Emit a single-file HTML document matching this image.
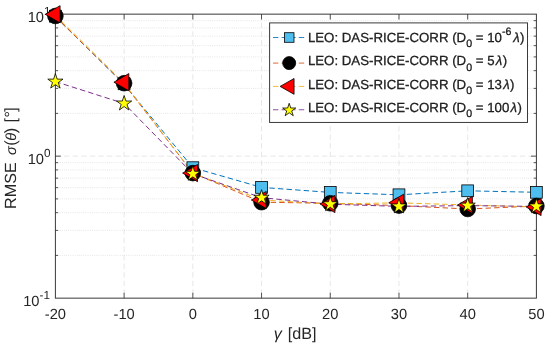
<!DOCTYPE html><html><head><meta charset="utf-8"><title>RMSE plot</title>
<style>html,body{margin:0;padding:0;background:#fff;overflow:hidden}svg{display:block}text{font-family:"Liberation Sans",Arial,sans-serif;fill:#262626}</style></head><body>
<svg width="550" height="347" viewBox="0 0 550 347" text-rendering="geometricPrecision">
<rect width="550" height="347" fill="#fff"/>
<g stroke="#e7e7e7" stroke-width="1" fill="none">
<line x1="124.11" y1="14.15" x2="124.11" y2="298.15" stroke-dasharray="5.4 3.2"/>
<line x1="192.83" y1="14.15" x2="192.83" y2="298.15" stroke-dasharray="5.4 3.2"/>
<line x1="261.54" y1="14.15" x2="261.54" y2="298.15" stroke-dasharray="5.4 3.2"/>
<line x1="330.26" y1="14.15" x2="330.26" y2="298.15" stroke-dasharray="5.4 3.2"/>
<line x1="398.97" y1="14.15" x2="398.97" y2="298.15" stroke-dasharray="5.4 3.2"/>
<line x1="467.69" y1="14.15" x2="467.69" y2="298.15" stroke-dasharray="5.4 3.2"/>
<line x1="55.4" y1="156.15" x2="536.4" y2="156.15" stroke-dasharray="5.4 3.2"/>
</g>
<g stroke="#d9d9d9" stroke-width="0.8" fill="none" stroke-dasharray="0.8 1.35">
<line x1="55.4" y1="255.40" x2="536.4" y2="255.40"/>
<line x1="55.4" y1="230.40" x2="536.4" y2="230.40"/>
<line x1="55.4" y1="212.66" x2="536.4" y2="212.66"/>
<line x1="55.4" y1="198.90" x2="536.4" y2="198.90"/>
<line x1="55.4" y1="187.65" x2="536.4" y2="187.65"/>
<line x1="55.4" y1="178.15" x2="536.4" y2="178.15"/>
<line x1="55.4" y1="169.91" x2="536.4" y2="169.91"/>
<line x1="55.4" y1="162.65" x2="536.4" y2="162.65"/>
<line x1="55.4" y1="113.40" x2="536.4" y2="113.40"/>
<line x1="55.4" y1="88.40" x2="536.4" y2="88.40"/>
<line x1="55.4" y1="70.66" x2="536.4" y2="70.66"/>
<line x1="55.4" y1="56.90" x2="536.4" y2="56.90"/>
<line x1="55.4" y1="45.65" x2="536.4" y2="45.65"/>
<line x1="55.4" y1="36.15" x2="536.4" y2="36.15"/>
<line x1="55.4" y1="27.91" x2="536.4" y2="27.91"/>
<line x1="55.4" y1="20.65" x2="536.4" y2="20.65"/>
</g>
<rect x="55.4" y="14.15" width="481.00" height="284.00" fill="none" stroke="#3a3a3a" stroke-width="1"/>
<g stroke="#2a2a2a" stroke-width="0.8">
<line x1="124.11" y1="298.15" x2="124.11" y2="292.75"/>
<line x1="124.11" y1="14.15" x2="124.11" y2="19.55"/>
<line x1="192.83" y1="298.15" x2="192.83" y2="292.75"/>
<line x1="192.83" y1="14.15" x2="192.83" y2="19.55"/>
<line x1="261.54" y1="298.15" x2="261.54" y2="292.75"/>
<line x1="261.54" y1="14.15" x2="261.54" y2="19.55"/>
<line x1="330.26" y1="298.15" x2="330.26" y2="292.75"/>
<line x1="330.26" y1="14.15" x2="330.26" y2="19.55"/>
<line x1="398.97" y1="298.15" x2="398.97" y2="292.75"/>
<line x1="398.97" y1="14.15" x2="398.97" y2="19.55"/>
<line x1="467.69" y1="298.15" x2="467.69" y2="292.75"/>
<line x1="467.69" y1="14.15" x2="467.69" y2="19.55"/>
<line x1="55.4" y1="156.15" x2="60.8" y2="156.15"/>
<line x1="536.4" y1="156.15" x2="531.0" y2="156.15"/>
<line x1="55.4" y1="255.40" x2="58.1" y2="255.40"/>
<line x1="536.4" y1="255.40" x2="533.6999999999999" y2="255.40"/>
<line x1="55.4" y1="230.40" x2="58.1" y2="230.40"/>
<line x1="536.4" y1="230.40" x2="533.6999999999999" y2="230.40"/>
<line x1="55.4" y1="212.66" x2="58.1" y2="212.66"/>
<line x1="536.4" y1="212.66" x2="533.6999999999999" y2="212.66"/>
<line x1="55.4" y1="198.90" x2="58.1" y2="198.90"/>
<line x1="536.4" y1="198.90" x2="533.6999999999999" y2="198.90"/>
<line x1="55.4" y1="187.65" x2="58.1" y2="187.65"/>
<line x1="536.4" y1="187.65" x2="533.6999999999999" y2="187.65"/>
<line x1="55.4" y1="178.15" x2="58.1" y2="178.15"/>
<line x1="536.4" y1="178.15" x2="533.6999999999999" y2="178.15"/>
<line x1="55.4" y1="169.91" x2="58.1" y2="169.91"/>
<line x1="536.4" y1="169.91" x2="533.6999999999999" y2="169.91"/>
<line x1="55.4" y1="162.65" x2="58.1" y2="162.65"/>
<line x1="536.4" y1="162.65" x2="533.6999999999999" y2="162.65"/>
<line x1="55.4" y1="113.40" x2="58.1" y2="113.40"/>
<line x1="536.4" y1="113.40" x2="533.6999999999999" y2="113.40"/>
<line x1="55.4" y1="88.40" x2="58.1" y2="88.40"/>
<line x1="536.4" y1="88.40" x2="533.6999999999999" y2="88.40"/>
<line x1="55.4" y1="70.66" x2="58.1" y2="70.66"/>
<line x1="536.4" y1="70.66" x2="533.6999999999999" y2="70.66"/>
<line x1="55.4" y1="56.90" x2="58.1" y2="56.90"/>
<line x1="536.4" y1="56.90" x2="533.6999999999999" y2="56.90"/>
<line x1="55.4" y1="45.65" x2="58.1" y2="45.65"/>
<line x1="536.4" y1="45.65" x2="533.6999999999999" y2="45.65"/>
<line x1="55.4" y1="36.15" x2="58.1" y2="36.15"/>
<line x1="536.4" y1="36.15" x2="533.6999999999999" y2="36.15"/>
<line x1="55.4" y1="27.91" x2="58.1" y2="27.91"/>
<line x1="536.4" y1="27.91" x2="533.6999999999999" y2="27.91"/>
<line x1="55.4" y1="20.65" x2="58.1" y2="20.65"/>
<line x1="536.4" y1="20.65" x2="533.6999999999999" y2="20.65"/>
</g>
<g font-size="14.7" text-anchor="middle">
<text x="55.40" y="318.6">-20</text>
<text x="124.11" y="318.6">-10</text>
<text x="192.83" y="318.6">0</text>
<text x="261.54" y="318.6">10</text>
<text x="330.26" y="318.6">20</text>
<text x="398.97" y="318.6">30</text>
<text x="467.69" y="318.6">40</text>
<text x="536.40" y="318.6">50</text>
</g>
<g font-size="14.7" text-anchor="end">
<text x="50.6" y="22.15">10<tspan font-size="11.76" dy="-6.8">1</tspan></text>
<text x="50.6" y="164.15">10<tspan font-size="11.76" dy="-6.8">0</tspan></text>
<text x="50.0" y="305.85">10<tspan font-size="11.76" dy="-6.8">-1</tspan></text>
</g>
<text font-size="16.2" x="273.8" y="339"><tspan font-style="italic">γ</tspan><tspan dx="5.8">[dB]</tspan></text>
<text font-size="16.2" transform="translate(15.8,209) rotate(-90)"><tspan x="0">RMSE</tspan><tspan x="53.9" font-style="italic" font-size="14.6">σ</tspan><tspan x="63.2">(</tspan><tspan x="68.2" font-style="italic" font-size="14.6">θ</tspan><tspan x="75.7">)</tspan><tspan x="86.4">[</tspan><tspan x="91.4">°</tspan><tspan x="97.3">]</tspan></text>
<g fill="none" stroke-width="1" stroke-dasharray="5.4 3.2">
<path d="M55.40 16.70 L124.11 84.30 L192.83 167.70 L261.54 187.40 L330.26 192.40 L398.97 194.80 L467.69 190.80 L536.40 192.30" stroke="#0072bd"/>
<path d="M55.40 16.80 L124.11 84.00 L192.83 173.10 L261.54 202.20 L330.26 203.30 L398.97 205.60 L467.69 209.00 L536.40 206.00" stroke="#d95319"/>
<path d="M55.40 15.30 L124.11 83.20 L192.83 173.10 L261.54 200.00 L330.26 204.00 L398.97 202.80 L467.69 205.00 L536.40 207.00" stroke="#edb120"/>
<path d="M55.40 81.60 L124.11 103.50 L192.83 173.80 L261.54 197.70 L330.26 204.20 L398.97 206.40 L467.69 205.60 L536.40 206.40" stroke="#7e2f8e"/>
</g>
<g>
<rect x="49.50" y="10.30" width="11.8" height="11.8" fill="#4dbeee" stroke="#000" stroke-width="0.8"/>
<rect x="118.21" y="77.90" width="11.8" height="11.8" fill="#4dbeee" stroke="#000" stroke-width="0.8"/>
<rect x="186.93" y="161.80" width="11.8" height="11.8" fill="#4dbeee" stroke="#000" stroke-width="0.8"/>
<rect x="255.64" y="181.50" width="11.8" height="11.8" fill="#4dbeee" stroke="#000" stroke-width="0.8"/>
<rect x="324.36" y="186.50" width="11.8" height="11.8" fill="#4dbeee" stroke="#000" stroke-width="0.8"/>
<rect x="393.07" y="188.90" width="11.8" height="11.8" fill="#4dbeee" stroke="#000" stroke-width="0.8"/>
<rect x="461.79" y="184.90" width="11.8" height="11.8" fill="#4dbeee" stroke="#000" stroke-width="0.8"/>
<rect x="530.50" y="186.40" width="11.8" height="11.8" fill="#4dbeee" stroke="#000" stroke-width="0.8"/>
</g>
<g>
<circle cx="55.40" cy="16.00" r="7.8" fill="#000" stroke="#000" stroke-width="0.8"/>
<circle cx="124.11" cy="83.20" r="7.8" fill="#000" stroke="#000" stroke-width="0.8"/>
<circle cx="192.83" cy="173.10" r="7.8" fill="#000" stroke="#000" stroke-width="0.8"/>
<circle cx="261.54" cy="202.20" r="7.8" fill="#000" stroke="#000" stroke-width="0.8"/>
<circle cx="330.26" cy="203.30" r="7.8" fill="#000" stroke="#000" stroke-width="0.8"/>
<circle cx="398.97" cy="205.60" r="7.8" fill="#000" stroke="#000" stroke-width="0.8"/>
<circle cx="467.69" cy="209.00" r="7.8" fill="#000" stroke="#000" stroke-width="0.8"/>
<circle cx="536.40" cy="206.00" r="7.8" fill="#000" stroke="#000" stroke-width="0.8"/>
</g>
<g>
<path d="M45.19 14.30 L60.09 5.70 L60.09 22.90 Z" fill="#ff0000" stroke="#000" stroke-width="0.8"/>
<path d="M113.90 82.20 L128.80 73.60 L128.80 90.80 Z" fill="#ff0000" stroke="#000" stroke-width="0.8"/>
<path d="M182.62 173.10 L197.52 164.50 L197.52 181.70 Z" fill="#ff0000" stroke="#000" stroke-width="0.8"/>
<path d="M251.33 200.00 L266.23 191.40 L266.23 208.60 Z" fill="#ff0000" stroke="#000" stroke-width="0.8"/>
<path d="M320.05 204.00 L334.95 195.40 L334.95 212.60 Z" fill="#ff0000" stroke="#000" stroke-width="0.8"/>
<path d="M388.76 202.80 L403.66 194.20 L403.66 211.40 Z" fill="#ff0000" stroke="#000" stroke-width="0.8"/>
<path d="M457.48 205.00 L472.38 196.40 L472.38 213.60 Z" fill="#ff0000" stroke="#000" stroke-width="0.8"/>
<path d="M526.19 207.00 L541.09 198.40 L541.09 215.60 Z" fill="#ff0000" stroke="#000" stroke-width="0.8"/>
</g>
<g>
<path d="M55.40 73.60 L57.20 79.13 L63.01 79.13 L58.31 82.54 L60.10 88.07 L55.40 84.66 L50.70 88.07 L52.49 82.54 L47.79 79.13 L53.60 79.13 Z" fill="#ffff00" stroke="#000" stroke-width="0.8"/>
<path d="M124.11 95.50 L125.91 101.03 L131.72 101.03 L127.02 104.44 L128.82 109.97 L124.11 106.56 L119.41 109.97 L121.21 104.44 L116.51 101.03 L122.32 101.03 Z" fill="#ffff00" stroke="#000" stroke-width="0.8"/>
<path d="M192.83 165.80 L194.62 171.33 L200.44 171.33 L195.74 174.74 L197.53 180.27 L192.83 176.86 L188.13 180.27 L189.92 174.74 L185.22 171.33 L191.03 171.33 Z" fill="#ffff00" stroke="#000" stroke-width="0.8"/>
<path d="M261.54 189.70 L263.34 195.23 L269.15 195.23 L264.45 198.64 L266.25 204.17 L261.54 200.76 L256.84 204.17 L258.64 198.64 L253.93 195.23 L259.75 195.23 Z" fill="#ffff00" stroke="#000" stroke-width="0.8"/>
<path d="M330.26 196.20 L332.05 201.73 L337.87 201.73 L333.16 205.14 L334.96 210.67 L330.26 207.26 L325.55 210.67 L327.35 205.14 L322.65 201.73 L328.46 201.73 Z" fill="#ffff00" stroke="#000" stroke-width="0.8"/>
<path d="M398.97 198.40 L400.77 203.93 L406.58 203.93 L401.88 207.34 L403.67 212.87 L398.97 209.46 L394.27 212.87 L396.06 207.34 L391.36 203.93 L397.18 203.93 Z" fill="#ffff00" stroke="#000" stroke-width="0.8"/>
<path d="M467.69 197.60 L469.48 203.13 L475.29 203.13 L470.59 206.54 L472.39 212.07 L467.69 208.66 L462.98 212.07 L464.78 206.54 L460.08 203.13 L465.89 203.13 Z" fill="#ffff00" stroke="#000" stroke-width="0.8"/>
<path d="M536.40 198.40 L538.20 203.93 L544.01 203.93 L539.31 207.34 L541.10 212.87 L536.40 209.46 L531.70 212.87 L533.49 207.34 L528.79 203.93 L534.60 203.93 Z" fill="#ffff00" stroke="#000" stroke-width="0.8"/>
</g>
<rect x="269.6" y="22.9" width="257.9" height="99.55" fill="#fff" stroke="#3a3a3a" stroke-width="1"/>
<line x1="273" y1="37.5" x2="304.7" y2="37.5" stroke="#0072bd" stroke-width="0.85" stroke-dasharray="5.4 3.2"/>
<rect x="284.40" y="32.70" width="9.6" height="9.6" fill="#4dbeee" stroke="#000" stroke-width="0.8"/>
<text font-size="13.25" fill="#000" stroke="#000" stroke-width="0.25" x="307.9" y="41.7">LEO: DAS-RICE-CORR (D<tspan font-size="10.6" dy="5.3">0</tspan><tspan dy="-5.3"> = 10<tspan font-size="10.6" dy="-6.5">-6</tspan><tspan dy="6.5" dx="1.8" font-style="italic">λ</tspan><tspan dx="0.3">)</tspan></tspan></text>
<line x1="273" y1="63.1" x2="304.7" y2="63.1" stroke="#d95319" stroke-width="0.85" stroke-dasharray="5.4 3.2"/>
<circle cx="289.20" cy="63.10" r="6.5" fill="#000" stroke="#000" stroke-width="0.8"/>
<text font-size="13.25" fill="#000" stroke="#000" stroke-width="0.25" x="307.9" y="65.4">LEO: DAS-RICE-CORR (D<tspan font-size="10.6" dy="5.3">0</tspan><tspan dy="-5.3"> = 5<tspan dx="1.3" font-style="italic">λ</tspan><tspan dx="0.3">)</tspan></tspan></text>
<line x1="273" y1="86.4" x2="304.7" y2="86.4" stroke="#edb120" stroke-width="0.85" stroke-dasharray="5.4 3.2"/>
<path d="M280.07 86.40 L294.07 78.50 L294.07 94.30 Z" fill="#ff0000" stroke="#000" stroke-width="0.8"/>
<text font-size="13.25" fill="#000" stroke="#000" stroke-width="0.25" x="307.9" y="88.7">LEO: DAS-RICE-CORR (D<tspan font-size="10.6" dy="5.3">0</tspan><tspan dy="-5.3"> = 13<tspan dx="1.3" font-style="italic">λ</tspan><tspan dx="0.3">)</tspan></tspan></text>
<line x1="273" y1="109.75" x2="304.7" y2="109.75" stroke="#7e2f8e" stroke-width="0.85" stroke-dasharray="5.4 3.2"/>
<path d="M289.20 103.25 L290.75 108.02 L295.76 108.02 L291.71 110.96 L293.26 115.73 L289.20 112.79 L285.14 115.73 L286.69 110.96 L282.64 108.02 L287.65 108.02 Z" fill="#ffff00" stroke="#000" stroke-width="0.8"/>
<text font-size="13.25" fill="#000" stroke="#000" stroke-width="0.25" x="307.9" y="112.1">LEO: DAS-RICE-CORR (D<tspan font-size="10.6" dy="5.3">0</tspan><tspan dy="-5.3"> = 100<tspan dx="1.3" font-style="italic">λ</tspan><tspan dx="0.3">)</tspan></tspan></text>
</svg></body></html>
